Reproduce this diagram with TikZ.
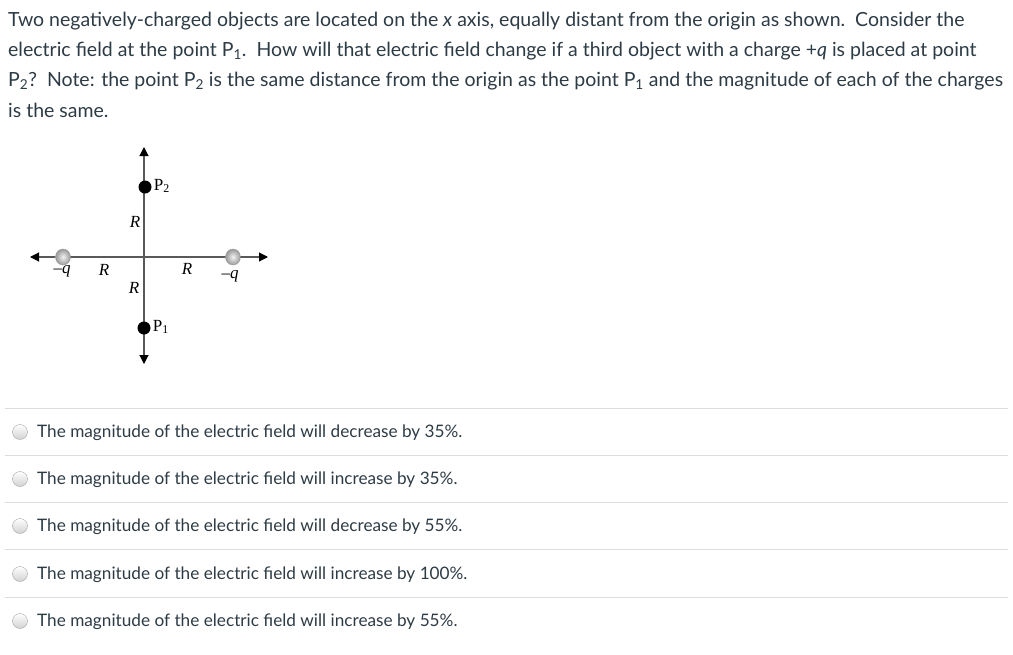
\documentclass[tikz,border=0pt]{standalone}
\usepackage{fontspec}
\setmainfont{Lato}
\newfontfamily\figfont{Liberation Serif}
\usetikzlibrary{arrows.meta,positioning,shapes.geometric}
\definecolor{txt}{HTML}{2D3B45}
\definecolor{rulegray}{HTML}{DDDDDD}

\begin{document}
\begin{tikzpicture}[x=1pt,y=-1pt]
\tikzset{qline/.style={anchor=base west,inner sep=0pt,text=txt,font=\fontsize{19.5}{22}\selectfont}}
\tikzset{optline/.style={anchor=base west,inner sep=0pt,text=txt,font=\fontsize{17.2}{20}\selectfont}}
\tikzset{axis/.style={draw=black!65,line width=1.1pt,arrows={Triangle[length=9pt,width=9pt,black]-Triangle[length=9pt,width=9pt,black]}}}
\tikzset{charge/.style={ellipse,minimum width=15pt,minimum height=16pt,inner sep=0pt,draw=black!40,inner color=black!5,outer color=black!40}}
\tikzset{dot/.style={circle,minimum size=13pt,inner sep=0pt,fill=black}}
\tikzset{lbl/.style={inner sep=0pt,font=\figfont\fontsize{17}{19}\selectfont}}
\tikzset{radio/.style={circle,minimum size=15pt,inner sep=0pt,draw=black!35,top color=white,bottom color=black!18}}
\useasboundingbox (0,0) rectangle (1013,654);

% question text
\node[qline] (l1) at (8,26) {Two negatively-charged objects are located on the \textit{x} axis, equally distant from the origin as shown.\ \ Consider the};
\node[qline] (l2) at (8,56) {electric field at the point P\textsubscript{1}.\ \ How will that electric field change if a third object with a charge +\textit{q} is placed at point};
\node[qline] (l3) at (8,86) {P\textsubscript{2}?\ \ Note: the point P\textsubscript{2} is the same distance from the origin as the point P\textsubscript{1} and the magnitude of each of the charges};
\node[qline] (l4) at (8,117) {is the same.};

% axes
\coordinate (O) at (144,257);
\coordinate (xL) at (30,257);
\coordinate (xR) at (268,257);
\coordinate (yT) at (144,147);
\coordinate (yB) at (144,364);
\draw[axis] (xL) -- (xR);
\draw[axis] (yB) -- (yT);

% charges and points
\node[charge] (qL) at (63,257) {};
\node[charge] (qR) at (233,257) {};
\node[dot] (p2) at (145,187) {};
\node[dot] (p1) at (144,328) {};

\node[lbl,right=2pt of p2,yshift=1pt] (p2lbl) {P\textsubscript{2}};
\node[lbl,right=2pt of p1,yshift=1pt] (p1lbl) {P\textsubscript{1}};
\node[lbl] (qLlbl) at (62,271) {\textit{–q}};
\node[lbl] (qRlbl) at (230,276) {\textit{–q}};
\node[lbl] (rUp) at (135,222) {\textit{R}};
\node[lbl] (rDown) at (134,288) {\textit{R}};
\node[lbl] (rLeft) at (104,270) {\textit{R}};
\node[lbl] (rRight) at (187,269) {\textit{R}};

% answer options
\draw[rulegray,line width=0.8pt] (5,408) -- (1008,408);
\foreach \i/\yy/\t in {1/432/decrease by 35\%.,2/479/increase by 35\%.,3/526/decrease by 55\%.,4/574/increase by 100\%.,5/621/increase by 55\%.}{%
\node[radio] (rb\i) at (20,\yy) {};
\node[optline] (opt\i) at (37,\yy+5.5) {The magnitude of the electric field will \t};
\ifnum\i<5 \draw[rulegray,line width=0.8pt] (5,\yy+23.5) -- (1008,\yy+23.5);\fi
}
\end{tikzpicture}
\end{document}
